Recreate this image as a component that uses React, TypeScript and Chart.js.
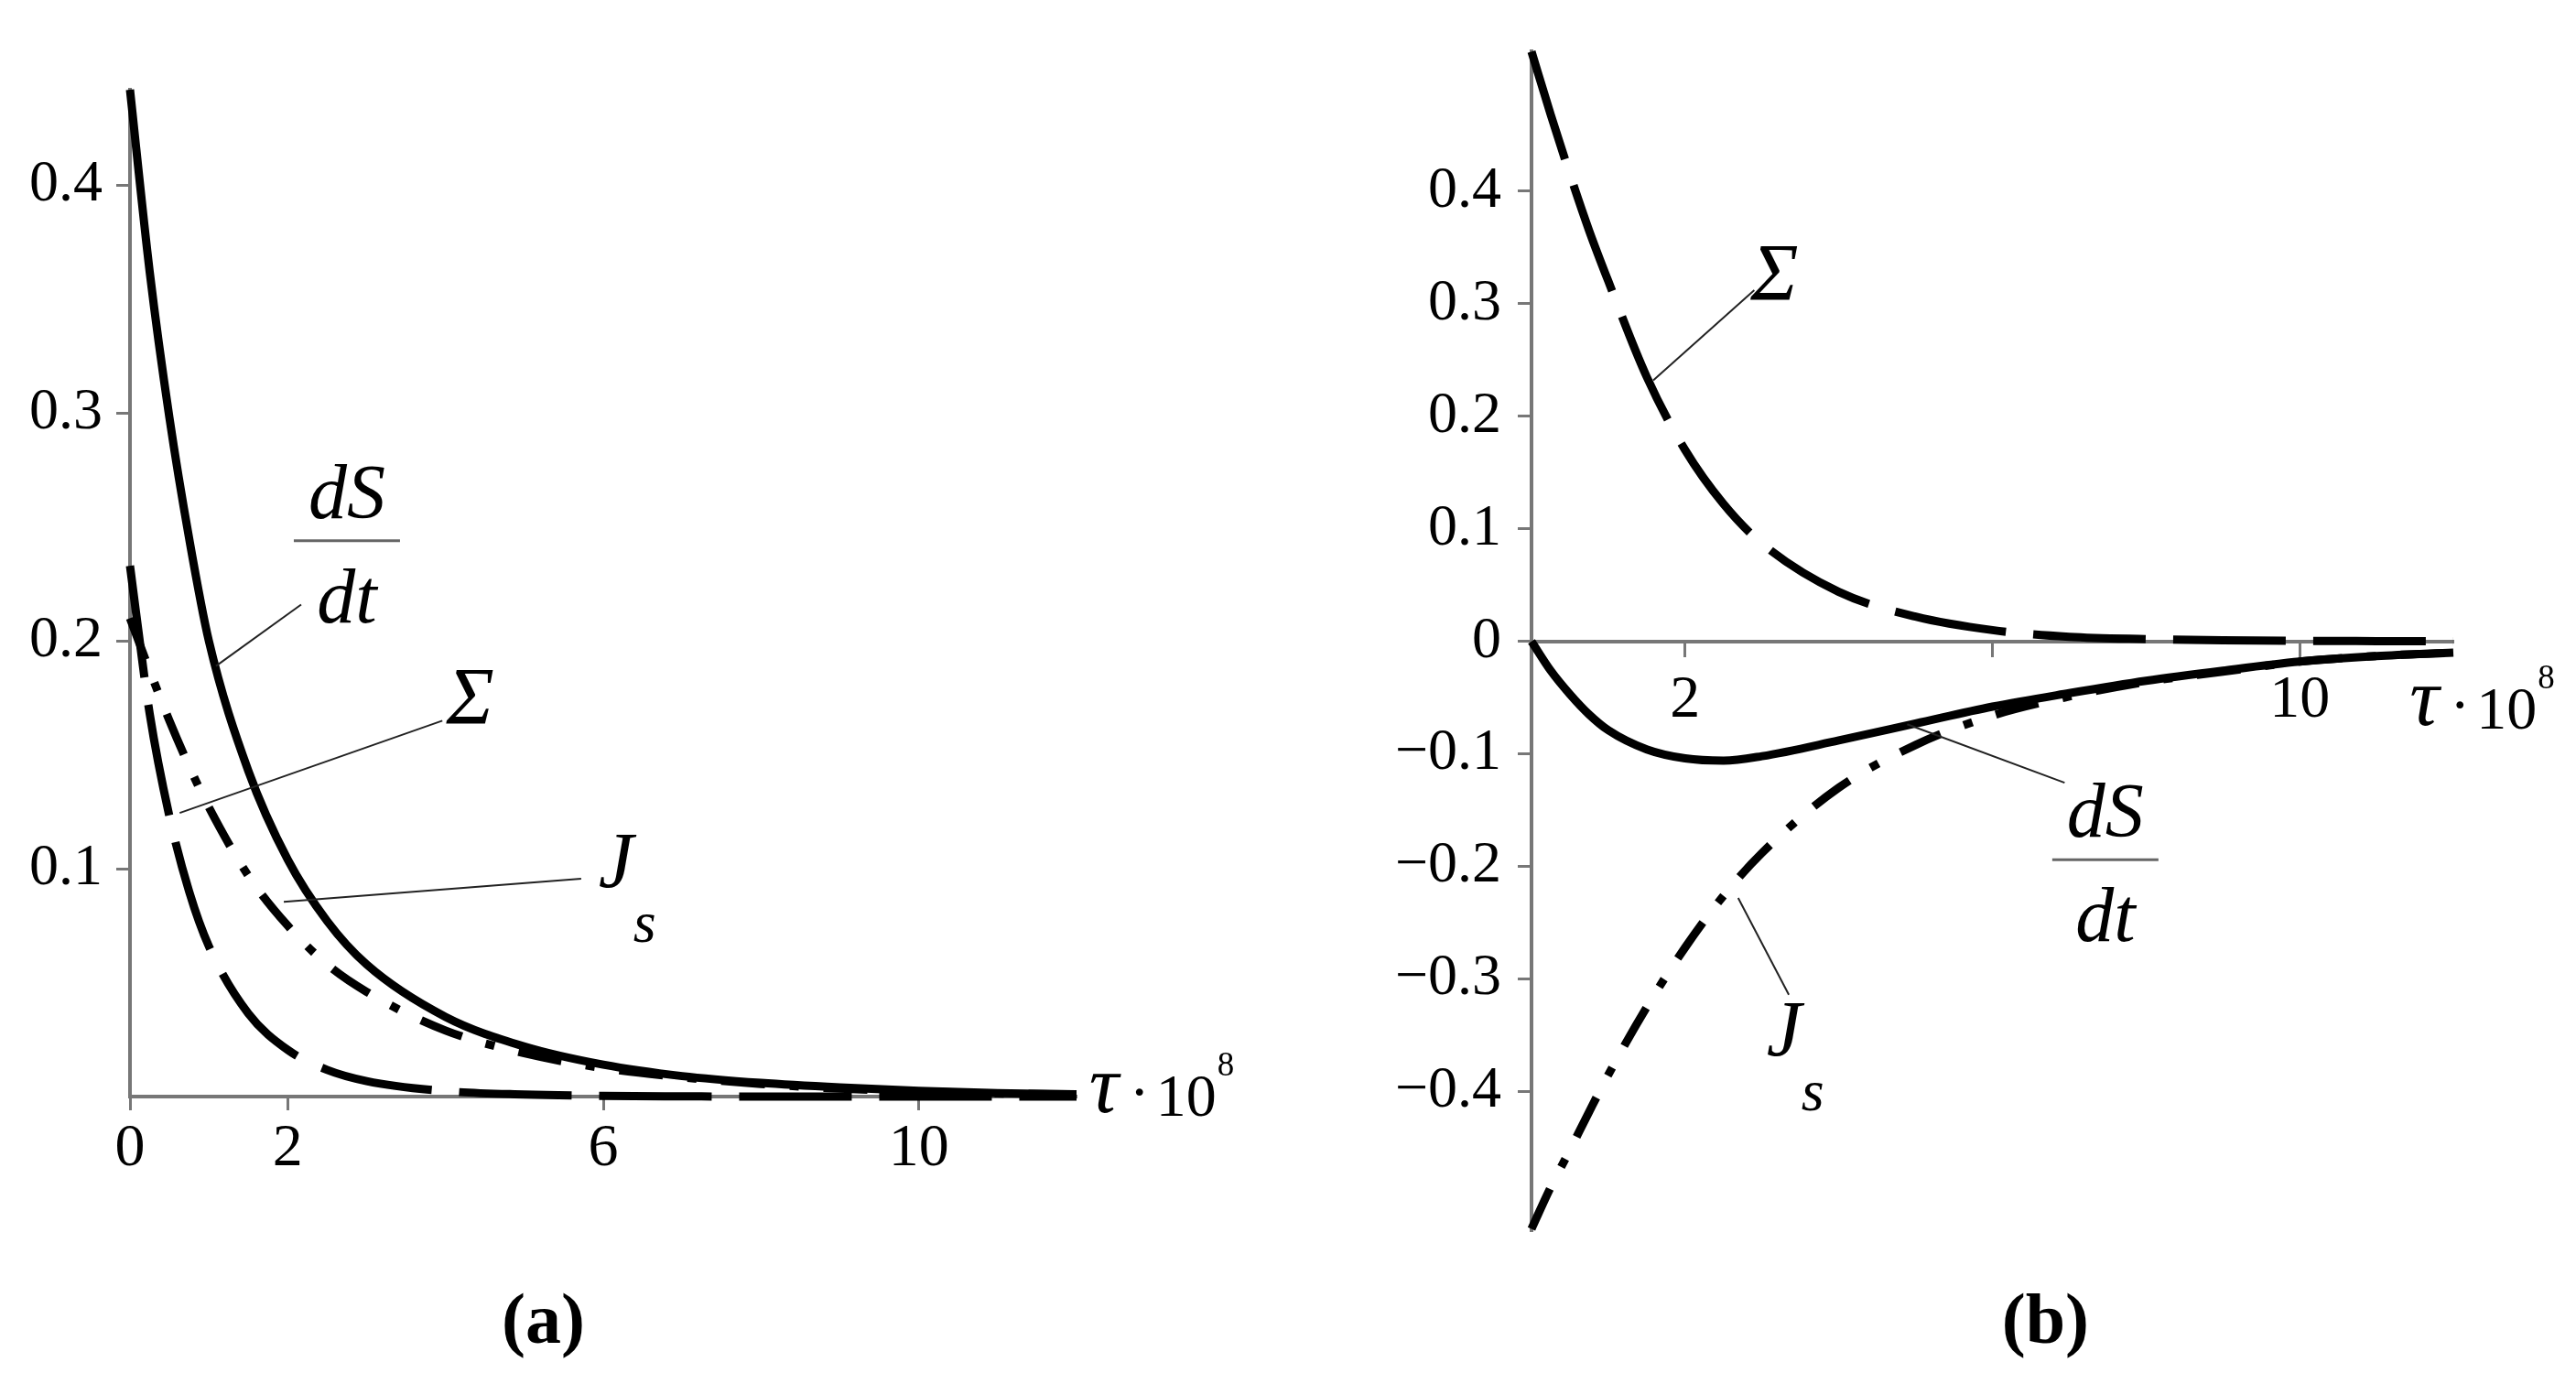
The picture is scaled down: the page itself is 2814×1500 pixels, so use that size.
import React, { useEffect, useRef } from 'react';
import { Chart, registerables } from 'chart.js';

Chart.register(...registerables);

// ---------- data ----------
const tau = [0, 0.25, 0.5, 0.75, 1, 1.5, 2, 2.5, 3, 4, 5, 6, 7, 8, 9, 10, 11, 12];

// panel (a)
const dSdtA = [0.442, 0.362, 0.298, 0.245, 0.2, 0.143, 0.104, 0.077, 0.058, 0.035, 0.022, 0.014, 0.009, 0.006, 0.004, 0.0025, 0.0015, 0.001];
const sigmaA = [0.233, 0.168, 0.123, 0.09, 0.066, 0.0365, 0.0205, 0.0117, 0.0068, 0.0024, 0.0009, 0.0003, 0.0001, 0, 0, 0, 0, 0];
const jsA = [0.21, 0.187, 0.165, 0.145, 0.127, 0.097, 0.075, 0.058, 0.046, 0.029, 0.019, 0.0125, 0.0085, 0.0055, 0.0035, 0.0022, 0.0014, 0.001];

// panel (b)
const sigmaB = [0.524, 0.468, 0.415, 0.365, 0.32, 0.235, 0.17, 0.122, 0.087, 0.044, 0.022, 0.01, 0.004, 0.002, 0.001, 0.0005, 0.0002, 0];
const dSdtB = [0, -0.026, -0.047, -0.065, -0.079, -0.096, -0.104, -0.106, -0.102, -0.088, -0.073, -0.058, -0.046, -0.035, -0.026, -0.018, -0.013, -0.01];
const jsB = [-0.522, -0.485, -0.452, -0.418, -0.385, -0.325, -0.272, -0.226, -0.188, -0.13, -0.092, -0.066, -0.049, -0.036, -0.027, -0.018, -0.013, -0.01];

// ticks
const xTicksA = [0, 2, 6, 10];
const yTicksA = [0.1, 0.2, 0.3, 0.4];
const xTicksB = [2, 6, 10];
const xLabelsB = ['2', '', '10'];
const yTicksB = [-0.4, -0.3, -0.2, -0.1, 0, 0.1, 0.2, 0.3, 0.4];

// ---------- styling ----------
const FONT = '"Liberation Serif", "Times New Roman", serif';
const AXIS = '#777777';
const DASH_LONG = [123, 30];
const DASH_DOT = [48, 27, 10, 27];

const pts = (xs: number[], ys: number[]) => xs.map((x, i) => ({ x, y: ys[i] }));
const fmt = (v: number) => (v === 0 ? '0' : v < 0 ? '\u2212' + String(Math.abs(v)) : String(v));

type Ann =
  | { kind: 'line'; x1: number; y1: number; x2: number; y2: number }
  | { kind: 'text'; x: number; y: number; text: string; size: number }
  | { kind: 'frac'; x: number; y: number }
  | { kind: 'sub'; x: number; y: number }
  | { kind: 'tau'; x: number; y: number };

const annA: Ann[] = [
  { kind: 'line', x1: 1.09, y1: 0.189, x2: 2.17, y2: 0.216 },
  { kind: 'frac', x: 2.75, y: 0.254 },
  { kind: 'line', x1: 0.63, y1: 0.1245, x2: 3.96, y2: 0.165 },
  { kind: 'text', x: 4.01, y: 0.164, text: '\u03A3', size: 88 },
  { kind: 'line', x1: 1.95, y1: 0.0855, x2: 5.72, y2: 0.0956 },
  { kind: 'sub', x: 5.94, y: 0.092 },
  { kind: 'tau', x: 12.16, y: -0.0068 },
];

const annB: Ann[] = [
  { kind: 'line', x1: 1.585, y1: 0.232, x2: 2.9, y2: 0.312 },
  { kind: 'text', x: 2.85, y: 0.304, text: '\u03A3', size: 88 },
  { kind: 'line', x1: 4.89, y1: -0.0736, x2: 6.94, y2: -0.1256 },
  { kind: 'frac', x: 7.47, y: -0.1736 },
  { kind: 'line', x1: 2.69, y1: -0.228, x2: 3.35, y2: -0.314 },
  { kind: 'sub', x: 3.06, y: -0.368 },
  { kind: 'tau', x: 11.43, y: -0.0744 },
];

function annPlugin(id: string, anns: Ann[], caption: string, capX: number) {
  return {
    id,
    afterDraw(chart: any) {
      const ctx: CanvasRenderingContext2D = chart.ctx;
      const sx = chart.scales.x;
      const sy = chart.scales.y;
      const px = (v: number) => sx.getPixelForValue(v);
      const py = (v: number) => sy.getPixelForValue(v);
      ctx.save();
      ctx.fillStyle = '#000';
      ctx.textBaseline = 'alphabetic';
      for (const a of anns) {
        if (a.kind === 'line') {
          ctx.strokeStyle = '#222';
          ctx.lineWidth = 2;
          ctx.beginPath();
          ctx.moveTo(px(a.x1), py(a.y1));
          ctx.lineTo(px(a.x2), py(a.y2));
          ctx.stroke();
        } else if (a.kind === 'text') {
          ctx.font = `italic ${a.size}px ${FONT}`;
          ctx.textAlign = 'left';
          ctx.fillText(a.text, px(a.x), py(a.y));
        } else if (a.kind === 'frac') {
          const cx = px(a.x);
          const by = py(a.y);
          ctx.font = `italic 84px ${FONT}`;
          ctx.textAlign = 'center';
          ctx.fillText('dS', cx, by);
          ctx.fillText('dt', cx, by + 114);
          ctx.strokeStyle = '#666';
          ctx.lineWidth = 3;
          ctx.beginPath();
          ctx.moveTo(cx - 58, by + 25);
          ctx.lineTo(cx + 58, by + 25);
          ctx.stroke();
        } else if (a.kind === 'sub') {
          const x = px(a.x);
          const y = py(a.y);
          ctx.textAlign = 'left';
          ctx.font = `italic 86px ${FONT}`;
          ctx.fillText('J', x, y);
          ctx.font = `italic 64px ${FONT}`;
          ctx.fillText('s', x + 38, y + 60);
        } else if (a.kind === 'tau') {
          const x = px(a.x);
          const y = py(a.y);
          ctx.textAlign = 'left';
          ctx.font = `italic 90px ${FONT}`;
          ctx.fillText('\u03C4', x, y);
          ctx.textAlign = 'center';
          ctx.font = `66px ${FONT}`;
          ctx.fillText('\u00B7', x + 55, y);
          ctx.textAlign = 'left';
          ctx.fillText('10', x + 73, y + 4);
          ctx.font = `37px ${FONT}`;
          ctx.fillText('8', x + 140, y - 40);
        }
      }
      ctx.font = `bold 78px ${FONT}`;
      ctx.textAlign = 'center';
      ctx.fillText(caption, px(capX), chart.height - 33);
      ctx.restore();
    },
  };
}

function lineDatasets(s: number[], sig: number[], js: number[]) {
  const base = {
    borderColor: '#000',
    borderWidth: 9,
    pointRadius: 0,
    fill: false,
    clip: false as any,
    cubicInterpolationMode: 'monotone' as const,
    borderCapStyle: 'butt' as const,
  };
  return [
    { ...base, label: 'dS/dt', data: pts(tau, s) },
    { ...base, label: '\u03A3', data: pts(tau, sig), borderDash: DASH_LONG },
    { ...base, label: 'J_s', data: pts(tau, js), borderDash: DASH_DOT },
  ];
}

const gridCfg = {
  display: true,
  drawOnChartArea: false,
  drawTicks: true,
  tickLength: 15,
  tickWidth: 3,
  tickColor: AXIS,
  color: AXIS,
};
const borderCfg = { display: true, color: AXIS, width: 4 };

function ChartPanel({ which }: { which: 'a' | 'b' }) {
  const ref = useRef<HTMLCanvasElement | null>(null);
  useEffect(() => {
    if (!ref.current) return;
    const isA = which === 'a';
    const chart = new Chart(ref.current, {
      type: 'line',
      data: {
        datasets: isA ? lineDatasets(dSdtA, sigmaA, jsA) : lineDatasets(dSdtB, sigmaB, jsB),
      } as any,
      options: {
        responsive: false,
        animation: false,
        devicePixelRatio: 1,
        layout: {
          padding: isA
            ? { left: 0, top: 98, right: 231, bottom: 0 }
            : { left: 0, top: 35, right: 134, bottom: 155 },
        },
        plugins: { legend: { display: false }, tooltip: { enabled: false } },
        scales: {
          x: {
            type: 'linear',
            min: 0,
            max: 12,
            position: isA ? 'bottom' : ({ y: 0 } as any),
            afterFit: (s: any) => {
              s.height = isA ? 302 : 0;
            },
            afterBuildTicks: (s: any) => {
              s.ticks = (isA ? xTicksA : xTicksB).map((v) => ({ value: v }));
            },
            ticks: {
              autoSkip: false,
              maxRotation: 0,
              color: '#000',
              padding: isA ? 3 : 10,
              font: { family: FONT, size: 66 },
              callback: (v: any) => {
                if (isA) return String(v);
                const i = xTicksB.indexOf(v);
                return i >= 0 ? xLabelsB[i] : '';
              },
            },
            grid: gridCfg,
            border: borderCfg,
          },
          y: {
            type: 'linear',
            min: isA ? 0 : -0.524,
            max: isA ? 0.442 : 0.524,
            afterFit: (s: any) => {
              s.width = isA ? 142 : 266;
            },
            afterBuildTicks: (s: any) => {
              s.ticks = (isA ? yTicksA : yTicksB).map((v) => ({ value: v }));
            },
            ticks: {
              color: '#000',
              padding: isA ? 15 : 18,
              font: { family: FONT, size: 64 },
              callback: (v: any) => fmt(Number(v)),
            },
            grid: gridCfg,
            border: borderCfg,
          },
        },
      } as any,
      plugins: [isA ? annPlugin('annA', annA, '(a)', 5.24) : annPlugin('annB', annB, '(b)', 6.69)],
    });
    return () => chart.destroy();
  }, [which]);
  return (
    <canvas
      ref={ref}
      width={1407}
      height={1500}
      style={{ position: 'absolute', top: 0, left: which === 'a' ? 0 : 1407, width: 1407, height: 1500 }}
    />
  );
}

export default function App() {
  return (
    <div style={{ position: 'fixed', left: 0, top: 0, width: 2814, height: 1500, background: '#fff', overflow: 'hidden' }}>
      <ChartPanel which="a" />
      <ChartPanel which="b" />
    </div>
  );
}
